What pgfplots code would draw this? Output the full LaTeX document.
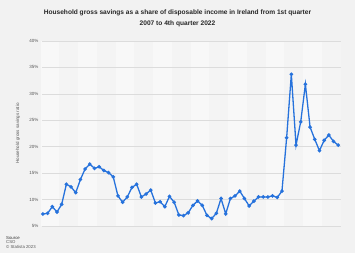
\documentclass[border=0pt]{standalone}
\usepackage{pgfplots}
\pgfplotsset{compat=1.18}
\usepackage{fontspec}
\setmainfont{Liberation Sans}
\definecolor{bgc}{HTML}{F2F2F2}
\definecolor{bandc}{HTML}{F8F8F8}
\definecolor{gridc}{HTML}{DCDCDC}
\definecolor{linec}{HTML}{2672DC}
\definecolor{txtc}{HTML}{555555}
\begin{document}
\begin{tikzpicture}[x=1pt,y=1pt]
\fill[bgc] (0,0) rectangle (355,253);
\useasboundingbox (0,0) rectangle (355,253);
\node[font=\bfseries\fontsize{6.6}{8}\selectfont, text=black!85] at (177.5,240) {Household gross savings as a share of disposable income in Ireland from 1st quarter};
\node[font=\bfseries\fontsize{6.6}{8}\selectfont, text=black!85] at (177.5,229) {2007 to 4th quarter 2022};
\node[font=\fontsize{4.5}{5.5}\selectfont, text=txtc, rotate=90] at (18,119.5) {Household gross savings ratio};
\node[font=\fontsize{4.3}{5}\selectfont, anchor=north west, align=left, inner sep=0pt, text=black!80] at (6,17) {Source\\[-0.5pt]{\color{txtc}CSO}\\[-0.5pt]{\color{txtc}\textcopyright{} Statista 2023}};
\begin{axis}[
  at={(42pt,27pt)}, anchor=south west,
  scale only axis, width=299pt, height=185pt,
  xmin=-0.2, xmax=63.6, ymin=5, ymax=40,
  axis line style={draw=none},
  xtick=\empty,
  ytick={5,10,...,40},
  yticklabel={\pgfmathprintnumber{\tick}\%},
  /pgf/number format/assume math mode=true,
  yticklabel style={font=\fontsize{4.5}{5}\selectfont, text=txtc},
  ymajorgrids, grid style={gridc, line width=0.6pt},
  major tick length=0pt,
  tick style={draw=none},
  ylabel style={draw=none},
  clip=false,
  axis on top=false,
]
\pgfplotsinvokeforeach{0,2,4,6,8,10,12,14}{
  \fill[bandc] (axis cs:{#1*4-0.5},5) rectangle (axis cs:{#1*4+3.5},40);
}
\pgfplotsinvokeforeach{1,3,5,7,9,11,13,15}{
  \fill[bgc!60!bandc] (axis cs:{#1*4-0.5},5) rectangle (axis cs:{min(#1*4+3.5,63.6)},40);
}
\pgfplotsinvokeforeach{10,15,...,40}{
  \draw[gridc, line width=0.6pt] (axis cs:-0.2,#1) -- (axis cs:63.6,#1);
}
\addplot[linec, line width=1.3pt, mark=*, mark size=1.1pt, mark options={fill=linec, draw=linec}] coordinates {
(0,7.27) (1,7.4) (2,8.65) (3,7.65) (4,9.1) (5,12.9) (6,12.4) (7,11.3)
(8,13.8) (9,15.8) (10,16.7) (11,15.9) (12,16.2) (13,15.5) (14,15.1) (15,14.3)
(16,10.7) (17,9.5) (18,10.5) (19,12.3) (20,12.9) (21,10.5) (22,11.05) (23,11.8)
(24,9.35) (25,9.6) (26,8.65) (27,10.6) (28,9.5) (29,7.1) (30,6.95) (31,7.5)
(32,8.9) (33,9.75) (34,8.9) (35,7.0) (36,6.4) (37,7.4) (38,10.2) (39,7.3)
(40,10.2) (41,10.7) (42,11.6) (43,10.2) (44,8.8) (45,9.7) (46,10.5) (47,10.5)
(48,10.5) (49,10.7) (50,10.4) (51,11.6) (52,21.7) (53,33.7) (54,20.3) (55,24.7)
(56,31.8) (57,23.7) (58,21.4) (59,19.25) (60,21.2) (61,22.2) (62,21.0) (63,20.3)
};
\end{axis}
\end{tikzpicture}
\end{document}
